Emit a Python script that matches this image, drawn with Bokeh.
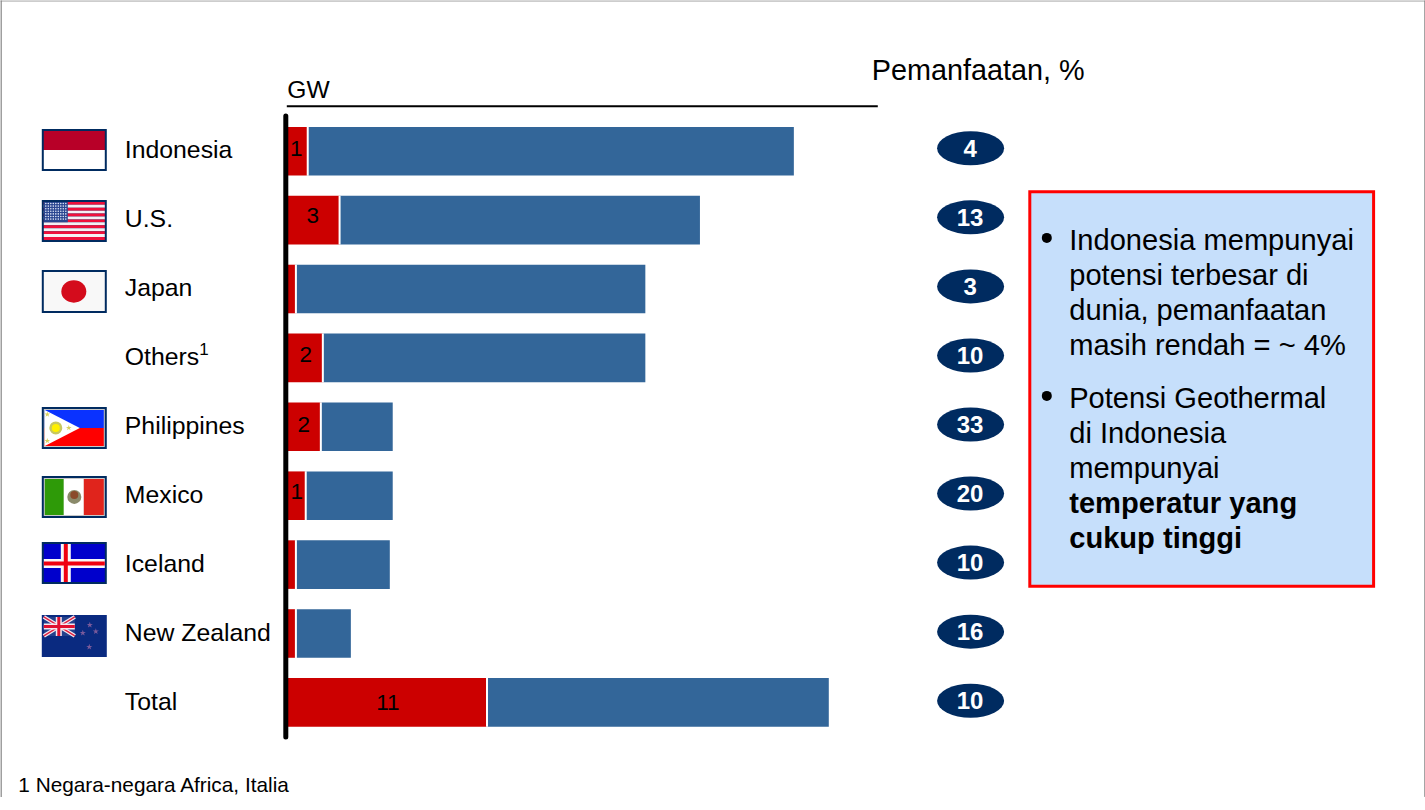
from bokeh.plotting import figure
from bokeh.models import Range1d
from bokeh.core.properties import value
from bokeh.embed import file_html
from bokeh.resources import INLINE

# ---------- data ----------
countries = ["Indonesia", "U.S.", "Japan", "Others", "Philippines", "Mexico", "Iceland", "New Zealand", "Total"]
used_gw = [1.15, 2.9, 0.5, 1.98, 1.87, 1.04, 0.5, 0.5, 11.0]
potential_gw = [27.86, 22.7, 19.7, 19.7, 5.82, 5.82, 5.66, 3.52, 29.78]
bar_labels = ["1", "3", "", "2", "2", "1", "", "", "11"]
utilisation = ["4", "13", "3", "10", "33", "20", "10", "16", "10"]
box_lines = ["Indonesia mempunyai", "potensi terbesar di", "dunia, pemanfaatan", "masih rendah = ~ 4%",
             "Potensi Geothermal", "di Indonesia", "mempunyai"]
box_bold_lines = ["temperatur yang", "cukup tinggi"]

# ---------- layout constants (reference pixels) ----------
W, H = 1425, 810
ORG_X, ORG_Y = 0.7, 0.6  # fine alignment of the page pixels
PX_PER_GW, X0 = 18.2, 287
ROW0, ROW_STEP = 151.3, 68.9
RED, BLUE, NAVY = "#CC0000", "#336699", "#002B60"
FONT = value("Liberation Sans")

p = figure(width=W, height=H, output_backend="svg", toolbar_location=None,
           x_range=Range1d((ORG_X - X0) / PX_PER_GW, (ORG_X + W - X0) / PX_PER_GW),
           y_range=Range1d((ORG_Y + H - ROW0) / ROW_STEP, (ORG_Y - ROW0) / ROW_STEP),
           x_axis_type=None, y_axis_type=None, min_border=0,
           outline_line_color=None, background_fill_color="white", border_fill_color="white")
p.grid.visible = False
p.extra_x_ranges = {"px": Range1d(ORG_X, ORG_X + W)}
p.extra_y_ranges = {"px": Range1d(ORG_Y + H, ORG_Y)}
PX = dict(x_range_name="px", y_range_name="px")
rows = list(range(len(countries)))


def box(x0, y0, x1, y1, c):
    p.quad(left=x0, right=x1, top=y0, bottom=y1, fill_color=c, line_color=None, **PX)


def txt(x, y, s, size, color="black", style="normal", align="left"):
    p.text(x=[x], y=[y], text=[s], text_font=FONT, text_font_size=f"{size}px", text_color=color,
           text_font_style=style, text_align=align, text_baseline="middle", **PX)


# ---------- slide edge ----------
p.line([1.2, 1.2], [0, 797], line_color="#7F7F7F", line_width=1.5, **PX)
p.line([0, 1426], [1, 1], line_color="#7F7F7F", line_width=1, **PX)
p.line([1425, 1425], [0, 797], line_color="#7F7F7F", line_width=1, **PX)

# ---------- bars ----------
p.hbar(y=rows, left=0, right=used_gw, height=0.705, fill_color=RED, line_color=None)
p.hbar(y=rows, left=used_gw, right=potential_gw, height=0.705, fill_color=BLUE, line_color=None)
p.segment(x0=used_gw, x1=used_gw, y0=[r - 0.355 for r in rows], y1=[r + 0.355 for r in rows],
          line_color="white", line_width=2)
label_x = [0.52, 1.43, 0, 1.04, 0.93, 0.55, 0, 0, 5.55]
label_row = [-0.045, 0.93, 2, 2.955, 3.97, 4.94, 6, 7, 8]
p.text(x=label_x, y=label_row, text=bar_labels, text_font=FONT, text_font_size="22.5px", text_color="black",
       text_align="center", text_baseline="middle")

# axis + header rule
p.line([286, 286], [116, 737], line_color="black", line_width=5, line_cap="round", **PX)
p.line([287, 878], [106.4, 106.4], line_color="black", line_width=2, **PX)
txt(287.5, 89.3, "GW", 24.6)
txt(872, 70.3, "Pemanfaatan, %", 28.8)

# row labels
p.text(x=[125] * 9, y=[149.6 + 69.06 * r for r in rows], text=countries, text_font=FONT,
       text_font_size="24.8px", text_align="left", text_baseline="middle", text_color="black", **PX)
txt(199.5, 349.5, "1", 17)

# utilisation pills
pill_y = [148.4 + 69.05 * r for r in rows]
p.ellipse(x=[970.8] * 9, y=pill_y, width=67, height=34, width_units="screen", height_units="screen",
          fill_color=NAVY, line_color=None, **PX)
p.text(x=[970.3] * 9, y=pill_y, text=utilisation, text_font=FONT, text_font_size="24px",
       text_font_style="bold", text_color="white", text_align="center", text_baseline="middle", **PX)

# callout box
p.quad(left=1030, right=1373.8, top=191.8, bottom=586.3, fill_color="#C6DFFB", line_color="#FF0000", line_width=3,
       line_join="miter", **PX)
p.scatter(x=[1047, 1047], y=[238, 396], size=10, marker="circle", fill_color="black", line_color=None, **PX)
ys = [240.5, 275.5, 310.5, 345.5, 398.5, 433.5, 468.5]
p.text(x=[1069.4] * 7, y=ys, text=box_lines, text_font=FONT, text_font_size="29.1px", text_color="black",
       text_align="left", text_baseline="middle", **PX)
p.text(x=[1069.4] * 2, y=[503.5, 538.5], text=box_bold_lines, text_font=FONT, text_font_size="29.1px",
       text_font_style="bold", text_color="black", text_align="left", text_baseline="middle", **PX)

# footnote
txt(18.5, 784.5, "1 Negara-negara Africa, Italia", 20.8)

# ---------- flags ----------
FX0, FX1 = 42, 107


def frame(y0, y1):
    box(FX0, y0, FX1, y1, NAVY)
    return FX0 + 2, y0 + 2, FX1 - 2, y1 - 2


# Indonesia
x0, y0, x1, y1 = frame(129, 171)
box(x0, y0, x1, 150, "#B80028")
box(x0, 150, x1, y1, "white")

# U.S.
x0, y0, x1, y1 = frame(200, 242)
sh = (y1 - y0) / 13
for i in range(13):
    box(x0, y0 + i * sh, x1, y0 + (i + 1) * sh, "#F0103C" if i % 2 == 0 else "#F4F0F4")
box(x0, y0, 68, y0 + 7 * sh, "#2A4690")
p.scatter(x=[x0 + 2 + 2.5 * i for i in range(9) for j in range(7)],
          y=[y0 + 1.6 + 2.6 * j for i in range(9) for j in range(7)],
          size=1.6, marker="circle", fill_color="#DDE4F4", line_color=None, **PX)

# Japan
x0, y0, x1, y1 = frame(270, 313)
box(x0, y0, x1, y1, "#F8F8F8")
p.ellipse(x=[74], y=[291.5], width=25, height=22.5, width_units="screen", height_units="screen",
          fill_color="#D40C1C", line_color=None, **PX)

# Philippines
x0, y0, x1, y1 = frame(407, 449)
box(x0, y0, x1, y1, "#C8C8C8")
box(x0 + 1, y0 + 1, x1 - 1, 428, "#0A32FF")
box(x0 + 1, 428, x1 - 1, y1 - 1, "#FF0000")
p.patch(x=[x0 + 1, 80, x0 + 1], y=[y0 + 1, 428, y1 - 1], fill_color="white", line_color=None, **PX)
p.scatter(x=[56], y=[428], size=13, marker="circle", fill_color="#C8C860", line_color=None, **PX)
p.scatter(x=[56], y=[428], size=8, marker="circle", fill_color="#FFF000", line_color=None, **PX)
p.scatter(x=[47.5, 47.5, 69], y=[414.5, 441, 428], size=6, marker="star", fill_color="#D8D060", line_color=None, **PX)

# Mexico
x0, y0, x1, y1 = frame(476, 518)
box(x0, y0, x1, y1, "#C8C8C8")
box(x0 + 1, y0 + 1, 64, y1 - 1, "#2E9A08")
box(64, y0 + 1, 84, y1 - 1, "white")
box(84, y0 + 1, x1 - 1, y1 - 1, "#E0241C")
p.scatter(x=[74.5], y=[497], size=14, marker="circle", fill_color="#8A8A6A", line_color=None, **PX)
p.scatter(x=[74.5], y=[495], size=8, marker="circle", fill_color="#8A4A2A", line_color=None, **PX)

# Iceland
x0, y0, x1, y1 = frame(542, 584)
box(x0, y0, x1, y1, "#0000CC")
box(x0, 559, x1, 568, "#F8F8F8")
box(61, y0, 71, y1, "#F8F8F8")
box(x0, 561.5, x1, 565.5, "#F00010")
box(64, y0, 68, y1, "#F00010")

# New Zealand
box(FX0, 615, FX1, 657, "#0A2A80")
jack_x0, jack_x1, jack_y0, jack_y1 = FX0 + 2, 75, 617, 636
box(jack_x0, jack_y0, jack_x1, jack_y1, "#24408C")
p.segment(x0=[jack_x0, jack_x0], y0=[jack_y0, jack_y1], x1=[jack_x1, jack_x1], y1=[jack_y1, jack_y0],
          line_color="#F4E8F0", line_width=4, **PX)
p.segment(x0=[jack_x0, jack_x0], y0=[jack_y0, jack_y1], x1=[jack_x1, jack_x1], y1=[jack_y1, jack_y0],
          line_color="#E02040", line_width=1.4, **PX)
box(jack_x0, 623.5, jack_x1, 629.5, "#F4E8F0")
box(56, jack_y0, 62, jack_y1, "#F4E8F0")
box(jack_x0, 625, jack_x1, 628, "#E01030")
box(57.5, jack_y0, 60.5, jack_y1, "#E01030")
p.scatter(x=[90, 96, 83, 89.5], y=[625, 631.5, 633, 647], size=6.5, marker="star", fill_color="#7A5A9A", line_color=None, **PX)

open("out.html", "w").write(file_html(p, INLINE))
